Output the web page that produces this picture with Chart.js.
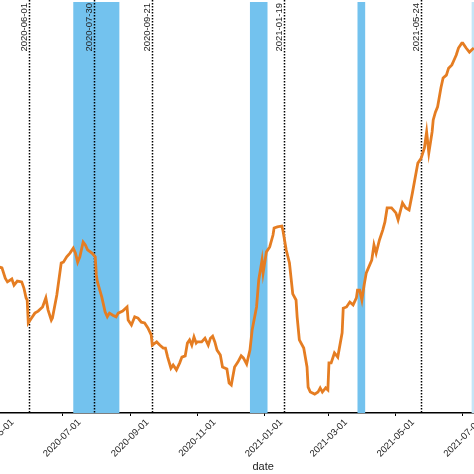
<!DOCTYPE html>
<html>
<head>
<meta charset="utf-8">
<script src="https://cdn.jsdelivr.net/npm/chart.js@4/dist/chart.umd.min.js"></script>
<style>
  html, body { margin: 0; padding: 0; background: #fff; }
  #wrap { position: relative; width: 474px; height: 474px; overflow: hidden; }
  #chart { position: absolute; left: -40px; top: 0; }
</style>
</head>
<body>
<div id="wrap"><canvas id="chart" width="606" height="474"></canvas></div>
<script>
// daily series (arbitrary units)
const dates = [
  '2020-05-05','2020-05-07','2020-05-10','2020-05-12','2020-05-16','2020-05-18','2020-05-21','2020-05-25','2020-05-27','2020-05-29',
  '2020-05-30','2020-05-31','2020-06-03','2020-06-06','2020-06-09','2020-06-13','2020-06-16','2020-06-18','2020-06-21','2020-06-22',
  '2020-06-26','2020-06-30','2020-07-02','2020-07-05','2020-07-08','2020-07-11','2020-07-13','2020-07-15','2020-07-17','2020-07-20',
  '2020-07-22','2020-07-24','2020-07-28','2020-07-31','2020-08-01','2020-08-02','2020-08-06','2020-08-09','2020-08-11','2020-08-13',
  '2020-08-16','2020-08-19','2020-08-21','2020-08-25','2020-08-29','2020-08-30','2020-09-02','2020-09-05','2020-09-08','2020-09-11',
  '2020-09-14','2020-09-17','2020-09-20','2020-09-21','2020-09-25','2020-09-28','2020-10-01','2020-10-03','2020-10-05','2020-10-08',
  '2020-10-10','2020-10-13','2020-10-16','2020-10-18','2020-10-21','2020-10-23','2020-10-25','2020-10-27','2020-10-29','2020-10-31',
  '2020-11-01','2020-11-05','2020-11-08','2020-11-11','2020-11-13','2020-11-15','2020-11-17','2020-11-19','2020-11-22','2020-11-24',
  '2020-11-28','2020-11-30','2020-12-02','2020-12-05','2020-12-08','2020-12-11','2020-12-13','2020-12-16','2020-12-19','2020-12-21',
  '2020-12-25','2020-12-27','2020-12-30','2020-12-31','2021-01-03','2021-01-06','2021-01-09','2021-01-10','2021-01-13','2021-01-17',
  '2021-01-18','2021-01-21','2021-01-24','2021-01-27','2021-01-30','2021-01-31','2021-02-02','2021-02-06','2021-02-09','2021-02-10',
  '2021-02-12','2021-02-16','2021-02-19','2021-02-21','2021-02-23','2021-02-26','2021-02-28','2021-03-01','2021-03-03','2021-03-06',
  '2021-03-09','2021-03-13','2021-03-14','2021-03-17','2021-03-20','2021-03-23','2021-03-26','2021-03-27','2021-03-29','2021-03-31',
  '2021-04-02','2021-04-04','2021-04-09','2021-04-11','2021-04-13','2021-04-16','2021-04-19','2021-04-21','2021-04-23','2021-04-27',
  '2021-05-01','2021-05-03','2021-05-07','2021-05-10','2021-05-13','2021-05-16','2021-05-19','2021-05-21','2021-05-24','2021-05-27',
  '2021-05-29','2021-05-31','2021-06-03','2021-06-04','2021-06-06','2021-06-08','2021-06-11','2021-06-13','2021-06-16','2021-06-18',
  '2021-06-21','2021-06-23','2021-06-25','2021-06-27','2021-06-30','2021-07-01','2021-07-04','2021-07-07','2021-07-09','2021-07-11'
];
const values = [
  35.5,35.3,32.8,31.9,32.6,31.1,32.1,31.9,30.4,28.0,
  27.5,21.9,23.1,24.3,24.8,25.8,28.0,25.1,22.6,23.1,
  28.7,36.5,36.7,38.0,38.9,40.1,38.9,36.7,38.0,41.6,
  40.9,39.7,38.9,38.0,33.6,31.9,28.2,24.6,23.4,24.3,
  23.8,23.4,24.3,24.8,25.8,22.6,21.4,23.4,23.1,22.1,
  21.9,20.7,19.0,16.5,17.3,16.5,15.8,15.8,13.6,10.9,
  11.7,10.5,12.2,13.6,13.9,17.0,17.8,16.5,18.5,17.0,
  17.3,17.3,18.2,16.5,18.2,18.7,17.3,15.3,14.1,11.2,
  10.7,7.3,6.8,11.2,12.4,13.9,13.4,11.9,15.3,20.2,
  25.8,32.4,37.2,34.1,39.2,40.4,43.3,45.0,45.3,45.5,
  44.5,39.7,36.5,29.0,27.5,23.4,17.8,15.8,11.2,6.3,
  5.1,4.6,5.1,6.1,5.1,6.1,5.6,12.2,12.2,14.6,
  13.6,19.5,25.5,25.8,27.0,26.3,28.0,29.9,29.9,27.5,
  31.1,34.1,37.2,40.9,38.9,42.1,44.5,46.5,49.9,49.9,
  48.7,47.0,51.1,49.9,49.4,53.5,57.9,60.8,62.0,64.5,
  68.4,63.3,68.4,71.3,73.2,74.5,79.1,81.5,82.2,83.9,
  84.7,85.9,87.1,88.8,90.0,90.0,88.8,87.8,88.3,88.8
];
const tickDates = ['2020-05-01','2020-07-01','2020-09-01','2020-11-01','2021-01-01','2021-03-01','2021-05-01','2021-07-01'];
const eventDates = ['2020-06-01','2020-07-30','2020-09-21','2021-01-19','2021-05-24'];
const bandStarts = ['2020-07-11','2020-12-19','2021-03-27','2021-07-09'];
const bandEnds   = ['2020-08-22','2021-01-04','2021-04-03','2021-08-31'];
const bandColors = ['#73c2ee','#73c2ee','#73c2ee','#c4e5f6'];

function day(s) { return Date.parse(s) / 86400000; }

const points = dates.map(function(d, i) { return { x: day(d), y: values[i] }; });

const markers = {
  id: 'markers',
  beforeDatasetsDraw(chart) {
    const ctx = chart.ctx, area = chart.chartArea, xs = chart.scales.x;
    ctx.save();
    for (let i = 0; i < bandStarts.length; i++) {
      const x1 = xs.getPixelForValue(day(bandStarts[i]));
      const x2 = xs.getPixelForValue(day(bandEnds[i]));
      ctx.fillStyle = bandColors[i];
      ctx.fillRect(x1, area.top, x2 - x1, area.bottom - area.top);
    }
    ctx.strokeStyle = '#000';
    ctx.lineWidth = 1.5;
    ctx.setLineDash([1.5, 1.5]);
    ctx.font = '9.5px "Liberation Sans", Arial, sans-serif';
    ctx.fillStyle = '#222';
    eventDates.forEach(function(d) {
      const x = Math.round(xs.getPixelForValue(day(d))) + 0.5;
      ctx.beginPath();
      ctx.moveTo(x, 0);
      ctx.lineTo(x, area.bottom);
      ctx.stroke();
      ctx.save();
      ctx.translate(x - 3, 3);
      ctx.rotate(-Math.PI / 2);
      ctx.textAlign = 'right';
      ctx.textBaseline = 'alphabetic';
      ctx.fillText(d, 0, 0);
      ctx.restore();
    });
    ctx.restore();
  }
};

const config = {
  type: 'line',
  data: {
    datasets: [{
      data: points,
      borderColor: '#e57d22',
      borderWidth: 2.8,
      pointRadius: 0,
      tension: 0,
      fill: false
    }]
  },
  options: {
    responsive: false,
    animation: false,
    layout: { padding: { top: 2, left: 0, right: 0, bottom: 0 } },
    plugins: { legend: { display: false }, tooltip: { enabled: false } },
    scales: {
      x: {
        type: 'linear',
        min: day('2020-03-30'),
        max: day('2021-10-03'),
        afterBuildTicks: function(axis) {
          axis.ticks = tickDates.map(function(d) { return { value: day(d) }; });
        },
        afterFit: function(axis) { axis.height = 61; },
        ticks: {
          autoSkip: false,
          minRotation: 45,
          maxRotation: 45,
          padding: 1,
          labelOffset: 17,
          color: '#222',
          font: { family: '"Liberation Sans", Arial, sans-serif', size: 9.5 },
          callback: function(v) { return new Date(v * 86400000).toISOString().slice(0, 10); }
        },
        grid: { drawOnChartArea: false, drawTicks: true, tickLength: 3, color: '#000' },
        border: { display: true, color: '#000', width: 1.5 },
        title: {
          display: true,
          text: 'date',
          color: '#222',
          padding: { top: 0, bottom: 0 },
          font: { family: '"Liberation Sans", Arial, sans-serif', size: 11 }
        }
      },
      y: {
        display: false,
        min: 0,
        max: 100
      }
    }
  },
  plugins: [markers]
};

new Chart(document.getElementById('chart'), config);
</script>
</body>
</html>
